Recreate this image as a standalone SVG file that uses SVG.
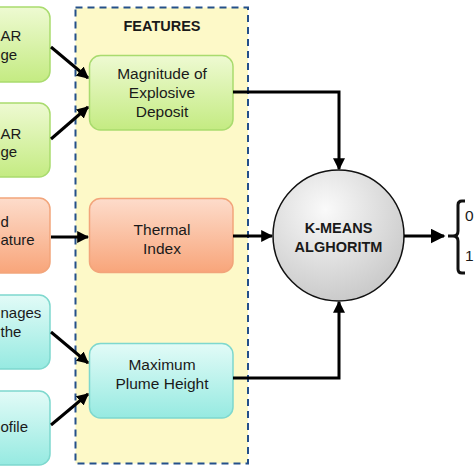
<svg xmlns="http://www.w3.org/2000/svg" width="474" height="474" viewBox="0 0 474 474">
<defs>
<linearGradient id="gGreen" x1="0" y1="0" x2="0" y2="1"><stop offset="0" stop-color="#eefad2"/><stop offset="1" stop-color="#c4eb82"/></linearGradient>
<linearGradient id="gOrange" x1="0" y1="0" x2="0" y2="1"><stop offset="0" stop-color="#fddccb"/><stop offset="1" stop-color="#f8a57a"/></linearGradient>
<linearGradient id="gCyan" x1="0" y1="0" x2="0" y2="1"><stop offset="0" stop-color="#e2fbf7"/><stop offset="1" stop-color="#96eae1"/></linearGradient>
<radialGradient id="gGray" cx="0.4" cy="0.3" r="0.8"><stop offset="0" stop-color="#fafafa"/><stop offset="1" stop-color="#c4c4c4"/></radialGradient>
<marker id="arr" viewBox="0 0 10 10" refX="9" refY="5" markerWidth="4" markerHeight="4" orient="auto" markerUnits="strokeWidth"><path d="M0,0 L10,5 L0,10 z" fill="#000"/></marker>
<marker id="arr2" viewBox="0 0 10 10" refX="9" refY="5" markerWidth="5" markerHeight="5" orient="auto" markerUnits="strokeWidth"><path d="M0,0 L10,5 L0,10 z" fill="#000"/></marker>
</defs>
<style>
.txt{font-family:"Liberation Sans",Arial,sans-serif;font-size:15.5px;fill:#1a1a1a;text-anchor:middle}
.lt{font-family:"Liberation Sans",Arial,sans-serif;font-size:15px;fill:#1a1a1a;text-anchor:start}
.bold{font-family:"Liberation Sans",Arial,sans-serif;font-weight:bold;fill:#1a1a1a;text-anchor:middle}
.green{fill:url(#gGreen);stroke:#a9db6e;stroke-width:1.5}
.orange{fill:url(#gOrange);stroke:#f2a57b;stroke-width:1.5}
.cyan{fill:url(#gCyan);stroke:#7ed8ce;stroke-width:1.5}
.con{fill:none;stroke:#000;stroke-width:3}
</style>
<rect width="474" height="474" fill="#ffffff"/>
<g id="features-panel">
<rect x="75.5" y="7.5" width="172.5" height="456" fill="#fdf9c8" stroke="#24508a" stroke-width="2" stroke-dasharray="7,5"/>
<text class="bold" x="162" y="31" font-size="14.5">FEATURES</text>
</g>
<g id="in1"><rect class="green" x="-20" y="7" width="70" height="75" rx="11"/><text class="lt" x="0.5" y="41">AR</text><text class="lt" x="0.5" y="60">ge</text></g>
<g id="in2"><rect class="green" x="-20" y="103" width="70" height="74" rx="11"/><text class="lt" x="0.5" y="139">AR</text><text class="lt" x="0.5" y="157">ge</text></g>
<g id="in3"><rect class="orange" x="-20" y="198" width="70" height="75" rx="11"/><text class="lt" x="0.5" y="227">d</text><text class="lt" x="0.5" y="245">ature</text></g>
<g id="in4"><rect class="cyan" x="-20" y="295" width="70" height="74" rx="11"/><text class="lt" x="0.5" y="318">nages</text><text class="lt" x="0.5" y="337">the</text></g>
<g id="in5"><rect class="cyan" x="-20" y="391" width="70" height="74" rx="11"/><text class="lt" x="0.5" y="432">ofile</text></g>
<g id="f1"><rect class="green" x="89.5" y="55.5" width="143.5" height="74.5" rx="11"/><text class="txt" x="162" y="78.5">Magnitude of</text><text class="txt" x="162" y="97.5">Explosive</text><text class="txt" x="162" y="116.5">Deposit</text></g>
<g id="f2"><rect class="orange" x="89.5" y="198.5" width="143.5" height="74" rx="11"/><text class="txt" x="162" y="234.5">Thermal</text><text class="txt" x="162" y="253.5">Index</text></g>
<g id="f3"><rect class="cyan" x="89.5" y="343.5" width="143.5" height="74.5" rx="11"/><text class="txt" x="162" y="369.5">Maximum</text><text class="txt" x="162" y="388.5">Plume Height</text></g>
<g id="kmeans"><circle cx="338.5" cy="235.5" r="65.5" fill="url(#gGray)" stroke="#111" stroke-width="1.5"/><text class="bold" x="338.5" y="233" font-size="14.5">K-MEANS</text><text class="bold" x="338.5" y="252" font-size="14.5">ALGHORITM</text></g>
<g id="output"><path d="M465,201 L462,201 Q458,201 458,205 L458,231 Q458,236 453,236 L448,236 L453,236 Q458,236 458,241 L458,269 Q458,273 462,273 L465,273" fill="none" stroke="#111" stroke-width="3"/><text class="txt" x="465" y="221" font-size="13" style="text-anchor:start">0</text><text class="txt" x="465" y="261" font-size="13" style="text-anchor:start">1</text></g>
<g id="connectors">
<line class="con" x1="51" y1="47" x2="88" y2="78" marker-end="url(#arr)"/>
<line class="con" x1="51" y1="139" x2="88" y2="107" marker-end="url(#arr)"/>
<line class="con" x1="51" y1="237" x2="88" y2="237" marker-end="url(#arr)"/>
<line class="con" x1="51" y1="332" x2="88" y2="363" marker-end="url(#arr)"/>
<line class="con" x1="51" y1="425" x2="88" y2="394" marker-end="url(#arr)"/>
<path class="con" d="M233,92 L339,92 L339,169" marker-end="url(#arr)"/>
<line class="con" x1="233" y1="236" x2="272" y2="236" marker-end="url(#arr)"/>
<path class="con" d="M233,378 L339,378 L339,302" marker-end="url(#arr)"/>
<line class="con" x1="404" y1="236" x2="444" y2="236" stroke-width="2.5" marker-end="url(#arr2)"/>
</g>
</svg>
